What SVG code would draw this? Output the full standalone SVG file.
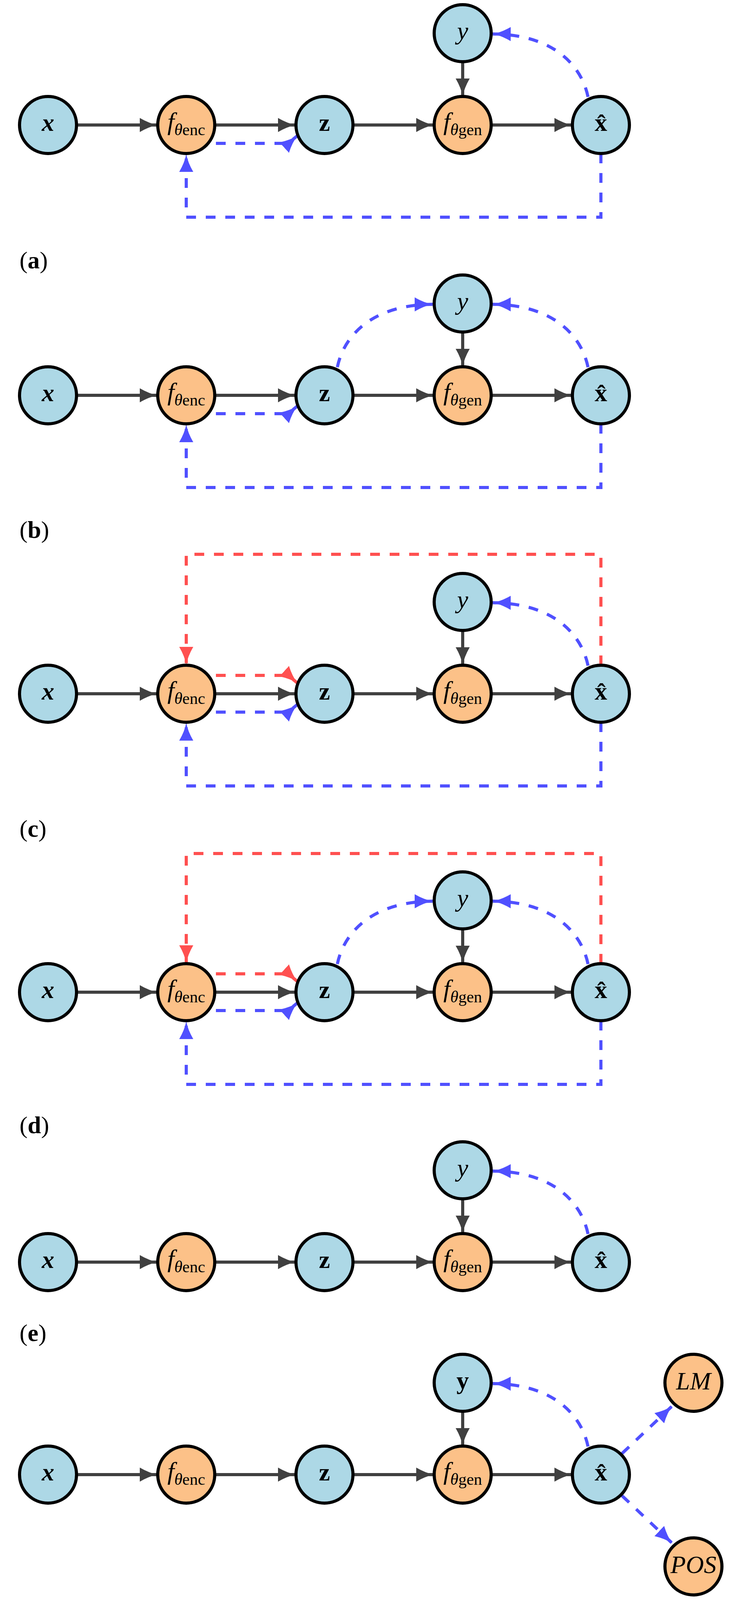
<svg xmlns="http://www.w3.org/2000/svg" width="1885" height="4257" viewBox="0 0 1885 4257">
<style>
.nb{fill:#ADD8E6;stroke:#000;stroke-width:8}
.no{fill:#FCC188;stroke:#000;stroke-width:8}
.t{font-family:"Liberation Serif",serif;font-size:64px;fill:#000;text-anchor:middle}
.b{font-weight:bold}
.i{font-style:italic}
.s{fill:none;stroke:#404040;stroke-width:8;marker-end:url(#ak)}
.bl{fill:none;stroke:#5050FF;stroke-width:8;stroke-dasharray:25 25;marker-end:url(#ab)}
.rd{fill:none;stroke:#FF5050;stroke-width:8;stroke-dasharray:25 25;marker-end:url(#ar)}
.lab{font-family:"Liberation Serif",serif;font-size:62px;fill:#000}
</style>
<defs>
<marker id="ak" markerUnits="userSpaceOnUse" markerWidth="50" markerHeight="40" viewBox="0 -20 50 40" refX="46" refY="0" orient="auto"><path d="M0,-18 L0,18 Q24,4 46,0 Q24,-4 0,-18Z" fill="#404040"/></marker>
<marker id="ab" markerUnits="userSpaceOnUse" markerWidth="50" markerHeight="40" viewBox="0 -20 50 40" refX="46" refY="0" orient="auto"><path d="M0,-18 L0,18 Q24,4 46,0 Q24,-4 0,-18Z" fill="#5050FF"/></marker>
<marker id="ar" markerUnits="userSpaceOnUse" markerWidth="50" markerHeight="40" viewBox="0 -20 50 40" refX="46" refY="0" orient="auto"><path d="M0,-18 L0,18 Q24,4 46,0 Q24,-4 0,-18Z" fill="#FF5050"/></marker>
</defs>

<!-- Panel a -->
<g transform="translate(0,320)">
<g id="connectors-a">
<path class="s" d="M198,0 L404,0"/><path class="s" d="M552,0 L758,0"/><path class="s" d="M906,0 L1112,0"/><path class="s" d="M1260,0 L1466,0"/><path class="s" d="M1185,-160 L1185,-73"/>
<path class="bl" d="M553,47 L728,47 Q740,47 762,27"/>
<path class="bl" d="M1539,73 L1539,236 L477,236 L477,74"/>
<path class="bl" d="M1506,-72 C1490,-150 1420,-232 1262,-233"/>
</g>
<g id="a-x"><circle class="nb" cx="123" cy="0" r="73"/><text class="t b i" x="123" y="15">x</text></g>
<g id="a-fenc"><circle class="no" cx="477" cy="0" r="73"/><text class="t" x="477" y="12"><tspan class="i">f</tspan><tspan class="i" font-size="42" dy="14">θ</tspan><tspan font-size="42">enc</tspan></text></g>
<g id="a-z"><circle class="nb" cx="831" cy="0" r="73"/><text class="t b" x="831" y="15">z</text></g>
<g id="a-fgen"><circle class="no" cx="1185" cy="0" r="73"/><text class="t" x="1185" y="12"><tspan class="i">f</tspan><tspan class="i" font-size="42" dy="14">θ</tspan><tspan font-size="42">gen</tspan></text></g>
<g id="a-xhat"><circle class="nb" cx="1539" cy="0" r="73"/><text class="t b" x="1539" y="15">x̂</text></g>
<g id="a-y"><circle class="nb" cx="1185" cy="-235" r="73"/><text class="t i" x="1185" y="-220">y</text></g>
</g>
<text class="lab" x="50" y="687">(<tspan class="b">a</tspan>)</text>

<!-- Panel b -->
<g transform="translate(0,1012)">
<g id="connectors-b">
<path class="s" d="M198,0 L404,0"/><path class="s" d="M552,0 L758,0"/><path class="s" d="M906,0 L1112,0"/><path class="s" d="M1260,0 L1466,0"/><path class="s" d="M1185,-160 L1185,-73"/>
<path class="bl" d="M553,47 L728,47 Q740,47 762,27"/>
<path class="bl" d="M1539,73 L1539,236 L477,236 L477,74"/>
<path class="bl" d="M1506,-72 C1490,-150 1420,-232 1262,-233"/>
<path class="bl" d="M864,-72 C880,-150 950,-232 1108,-233"/>
</g>
<g id="b-x"><circle class="nb" cx="123" cy="0" r="73"/><text class="t b i" x="123" y="15">x</text></g>
<g id="b-fenc"><circle class="no" cx="477" cy="0" r="73"/><text class="t" x="477" y="12"><tspan class="i">f</tspan><tspan class="i" font-size="42" dy="14">θ</tspan><tspan font-size="42">enc</tspan></text></g>
<g id="b-z"><circle class="nb" cx="831" cy="0" r="73"/><text class="t b" x="831" y="15">z</text></g>
<g id="b-fgen"><circle class="no" cx="1185" cy="0" r="73"/><text class="t" x="1185" y="12"><tspan class="i">f</tspan><tspan class="i" font-size="42" dy="14">θ</tspan><tspan font-size="42">gen</tspan></text></g>
<g id="b-xhat"><circle class="nb" cx="1539" cy="0" r="73"/><text class="t b" x="1539" y="15">x̂</text></g>
<g id="b-y"><circle class="nb" cx="1185" cy="-235" r="73"/><text class="t i" x="1185" y="-220">y</text></g>
</g>
<text class="lab" x="50" y="1377">(<tspan class="b">b</tspan>)</text>

<!-- Panel c -->
<g transform="translate(0,1776)">
<g id="connectors-c">
<path class="s" d="M198,0 L404,0"/><path class="s" d="M552,0 L758,0"/><path class="s" d="M906,0 L1112,0"/><path class="s" d="M1260,0 L1466,0"/><path class="s" d="M1185,-160 L1185,-73"/>
<path class="bl" d="M553,47 L728,47 Q740,47 762,27"/>
<path class="rd" d="M553,-47 L728,-47 Q740,-47 762,-27"/>
<path class="bl" d="M1539,73 L1539,236 L477,236 L477,74"/>
<path class="rd" d="M1539,-73 L1539,-357 L477,-357 L477,-74"/>
<path class="bl" d="M1506,-72 C1490,-150 1420,-232 1262,-233"/>
</g>
<g id="c-x"><circle class="nb" cx="123" cy="0" r="73"/><text class="t b i" x="123" y="15">x</text></g>
<g id="c-fenc"><circle class="no" cx="477" cy="0" r="73"/><text class="t" x="477" y="12"><tspan class="i">f</tspan><tspan class="i" font-size="42" dy="14">θ</tspan><tspan font-size="42">enc</tspan></text></g>
<g id="c-z"><circle class="nb" cx="831" cy="0" r="73"/><text class="t b" x="831" y="15">z</text></g>
<g id="c-fgen"><circle class="no" cx="1185" cy="0" r="73"/><text class="t" x="1185" y="12"><tspan class="i">f</tspan><tspan class="i" font-size="42" dy="14">θ</tspan><tspan font-size="42">gen</tspan></text></g>
<g id="c-xhat"><circle class="nb" cx="1539" cy="0" r="73"/><text class="t b" x="1539" y="15">x̂</text></g>
<g id="c-y"><circle class="nb" cx="1185" cy="-235" r="73"/><text class="t i" x="1185" y="-220">y</text></g>
</g>
<text class="lab" x="50" y="2142">(<tspan class="b">c</tspan>)</text>

<!-- Panel d -->
<g transform="translate(0,2540)">
<g id="connectors-d">
<path class="s" d="M198,0 L404,0"/><path class="s" d="M552,0 L758,0"/><path class="s" d="M906,0 L1112,0"/><path class="s" d="M1260,0 L1466,0"/><path class="s" d="M1185,-160 L1185,-73"/>
<path class="bl" d="M553,47 L728,47 Q740,47 762,27"/>
<path class="rd" d="M553,-47 L728,-47 Q740,-47 762,-27"/>
<path class="bl" d="M1539,73 L1539,236 L477,236 L477,74"/>
<path class="rd" d="M1539,-73 L1539,-355 L477,-355 L477,-74"/>
<path class="bl" d="M1506,-72 C1490,-150 1420,-232 1262,-233"/>
<path class="bl" d="M864,-72 C880,-150 950,-232 1108,-233"/>
</g>
<g id="d-x"><circle class="nb" cx="123" cy="0" r="73"/><text class="t b i" x="123" y="15">x</text></g>
<g id="d-fenc"><circle class="no" cx="477" cy="0" r="73"/><text class="t" x="477" y="12"><tspan class="i">f</tspan><tspan class="i" font-size="42" dy="14">θ</tspan><tspan font-size="42">enc</tspan></text></g>
<g id="d-z"><circle class="nb" cx="831" cy="0" r="73"/><text class="t b" x="831" y="15">z</text></g>
<g id="d-fgen"><circle class="no" cx="1185" cy="0" r="73"/><text class="t" x="1185" y="12"><tspan class="i">f</tspan><tspan class="i" font-size="42" dy="14">θ</tspan><tspan font-size="42">gen</tspan></text></g>
<g id="d-xhat"><circle class="nb" cx="1539" cy="0" r="73"/><text class="t b" x="1539" y="15">x̂</text></g>
<g id="d-y"><circle class="nb" cx="1185" cy="-235" r="73"/><text class="t i" x="1185" y="-220">y</text></g>
</g>
<text class="lab" x="50" y="2901">(<tspan class="b">d</tspan>)</text>

<!-- Panel e -->
<g transform="translate(0,3231)">
<g id="connectors-e">
<path class="s" d="M198,0 L404,0"/><path class="s" d="M552,0 L758,0"/><path class="s" d="M906,0 L1112,0"/><path class="s" d="M1260,0 L1466,0"/><path class="s" d="M1185,-160 L1185,-73"/>
<path class="bl" d="M1506,-72 C1490,-150 1420,-232 1262,-233"/>
</g>
<g id="e-x"><circle class="nb" cx="123" cy="0" r="73"/><text class="t b i" x="123" y="15">x</text></g>
<g id="e-fenc"><circle class="no" cx="477" cy="0" r="73"/><text class="t" x="477" y="12"><tspan class="i">f</tspan><tspan class="i" font-size="42" dy="14">θ</tspan><tspan font-size="42">enc</tspan></text></g>
<g id="e-z"><circle class="nb" cx="831" cy="0" r="73"/><text class="t b" x="831" y="15">z</text></g>
<g id="e-fgen"><circle class="no" cx="1185" cy="0" r="73"/><text class="t" x="1185" y="12"><tspan class="i">f</tspan><tspan class="i" font-size="42" dy="14">θ</tspan><tspan font-size="42">gen</tspan></text></g>
<g id="e-xhat"><circle class="nb" cx="1539" cy="0" r="73"/><text class="t b" x="1539" y="15">x̂</text></g>
<g id="e-y"><circle class="nb" cx="1185" cy="-235" r="73"/><text class="t i" x="1185" y="-220">y</text></g>
</g>
<text class="lab" x="50" y="3433">(<tspan class="b">e</tspan>)</text>

<!-- Panel f -->
<g transform="translate(0,3775)">
<g id="connectors-f">
<path class="s" d="M198,0 L404,0"/><path class="s" d="M552,0 L758,0"/><path class="s" d="M906,0 L1112,0"/><path class="s" d="M1260,0 L1466,0"/><path class="s" d="M1185,-160 L1185,-73"/>
<path class="bl" d="M1506,-72 C1490,-150 1420,-232 1262,-233"/>
<path class="bl" d="M1593,-54 L1722,-176"/>
<path class="bl" d="M1593,54 L1722,176"/>
</g>
<g id="f-x"><circle class="nb" cx="123" cy="0" r="73"/><text class="t b i" x="123" y="15">x</text></g>
<g id="f-fenc"><circle class="no" cx="477" cy="0" r="73"/><text class="t" x="477" y="12"><tspan class="i">f</tspan><tspan class="i" font-size="42" dy="14">θ</tspan><tspan font-size="42">enc</tspan></text></g>
<g id="f-z"><circle class="nb" cx="831" cy="0" r="73"/><text class="t b" x="831" y="15">z</text></g>
<g id="f-fgen"><circle class="no" cx="1185" cy="0" r="73"/><text class="t" x="1185" y="12"><tspan class="i">f</tspan><tspan class="i" font-size="42" dy="14">θ</tspan><tspan font-size="42">gen</tspan></text></g>
<g id="f-xhat"><circle class="nb" cx="1539" cy="0" r="73"/><text class="t b" x="1539" y="15">x̂</text></g>
<g id="f-y"><circle class="nb" cx="1185" cy="-235" r="73"/><text class="t b" x="1185" y="-220">y</text></g>
<g id="f-lm"><circle class="no" cx="1776" cy="-235" r="73"/><text class="t i" x="1776" y="-218" font-size="50">LM</text></g>
<g id="f-pos"><circle class="no" cx="1776" cy="235" r="73"/><text class="t i" x="1776" y="252" font-size="46">POS</text></g>
</g>
<text class="lab" x="50" y="4140">(<tspan class="b">f</tspan>)</text>
</svg>
